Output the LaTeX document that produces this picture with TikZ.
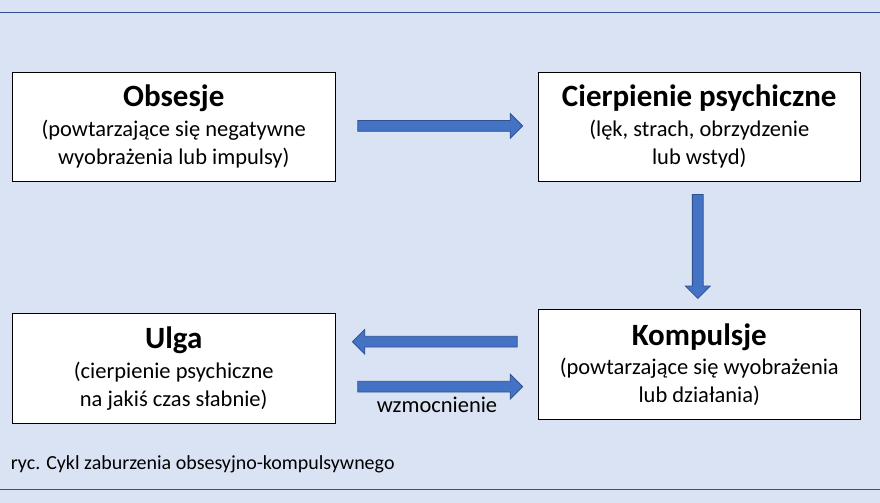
\documentclass[tikz,border=0pt]{standalone}
\usepackage{fontspec}
\setmainfont{Carlito}
\usetikzlibrary{shapes.arrows}
\definecolor{bgblue}{HTML}{DAE3F3}
\definecolor{arrowblue}{HTML}{4472C4}
\definecolor{edgeblue}{HTML}{2F528F}
\begin{document}
\begin{tikzpicture}[x=1pt, y=-1pt,
    box/.style={draw=black, thick, fill=white, minimum width=323pt, minimum height=110pt,
      align=center, font=\fontsize{22.5}{28}\selectfont, inner sep=0pt},
    blockarrow/.style={single arrow, fill=arrowblue, draw=edgeblue, thick,
      minimum height=165pt, minimum width=24pt, single arrow head extend=7pt, inner sep=5pt}]

    % Background and frame lines
    \fill[bgblue] (0,0) rectangle (880,503);
    \draw[edgeblue, thick] (0,12) -- (880,12);
    \draw[edgeblue, thick] (0,490) -- (880,490);

    % Boxes
    \node[box] (obsesje) at (173.5,127) {{\fontsize{31}{34}\selectfont\bfseries Obsesje}\\[2pt]
      (powtarzające się negatywne\\ wyobrażenia lub impulsy)};
    \node[box] (cierpienie) at (699.5,127) {{\fontsize{31}{34}\selectfont\bfseries Cierpienie psychiczne}\\[2pt]
      (lęk, strach, obrzydzenie\\ lub wstyd)};
    \node[box] (ulga) at (173.5,369) {{\fontsize{31}{34}\selectfont\bfseries Ulga}\\[2pt]
      (cierpienie psychiczne\\ na jakiś czas słabnie)};
    \node[box] (kompulsje) at (699.5,365) {{\fontsize{31}{34}\selectfont\bfseries Kompulsje}\\[2pt]
      (powtarzające się wyobrażenia\\ lub działania)};

    % Block arrows
    \node[blockarrow] (a1) at (437.5,126) {};
    \node[blockarrow, rotate=-90, minimum height=104pt] (a2) at (698,244) {};
    \node[blockarrow, rotate=180] (a3) at (437.5,342) {};
    \node[blockarrow] (a4) at (437.5,387) {};
    \node[font=\fontsize{22.5}{26}\selectfont, anchor=north] (wzm) at (437,394) {wzmocnienie};

    % Caption
    \node[anchor=west, font=\fontsize{20}{24}\selectfont] (ryc) at (7,465)
      {ryc. Cykl zaburzenia obsesyjno-kompulsywnego};
\end{tikzpicture}
\end{document}
